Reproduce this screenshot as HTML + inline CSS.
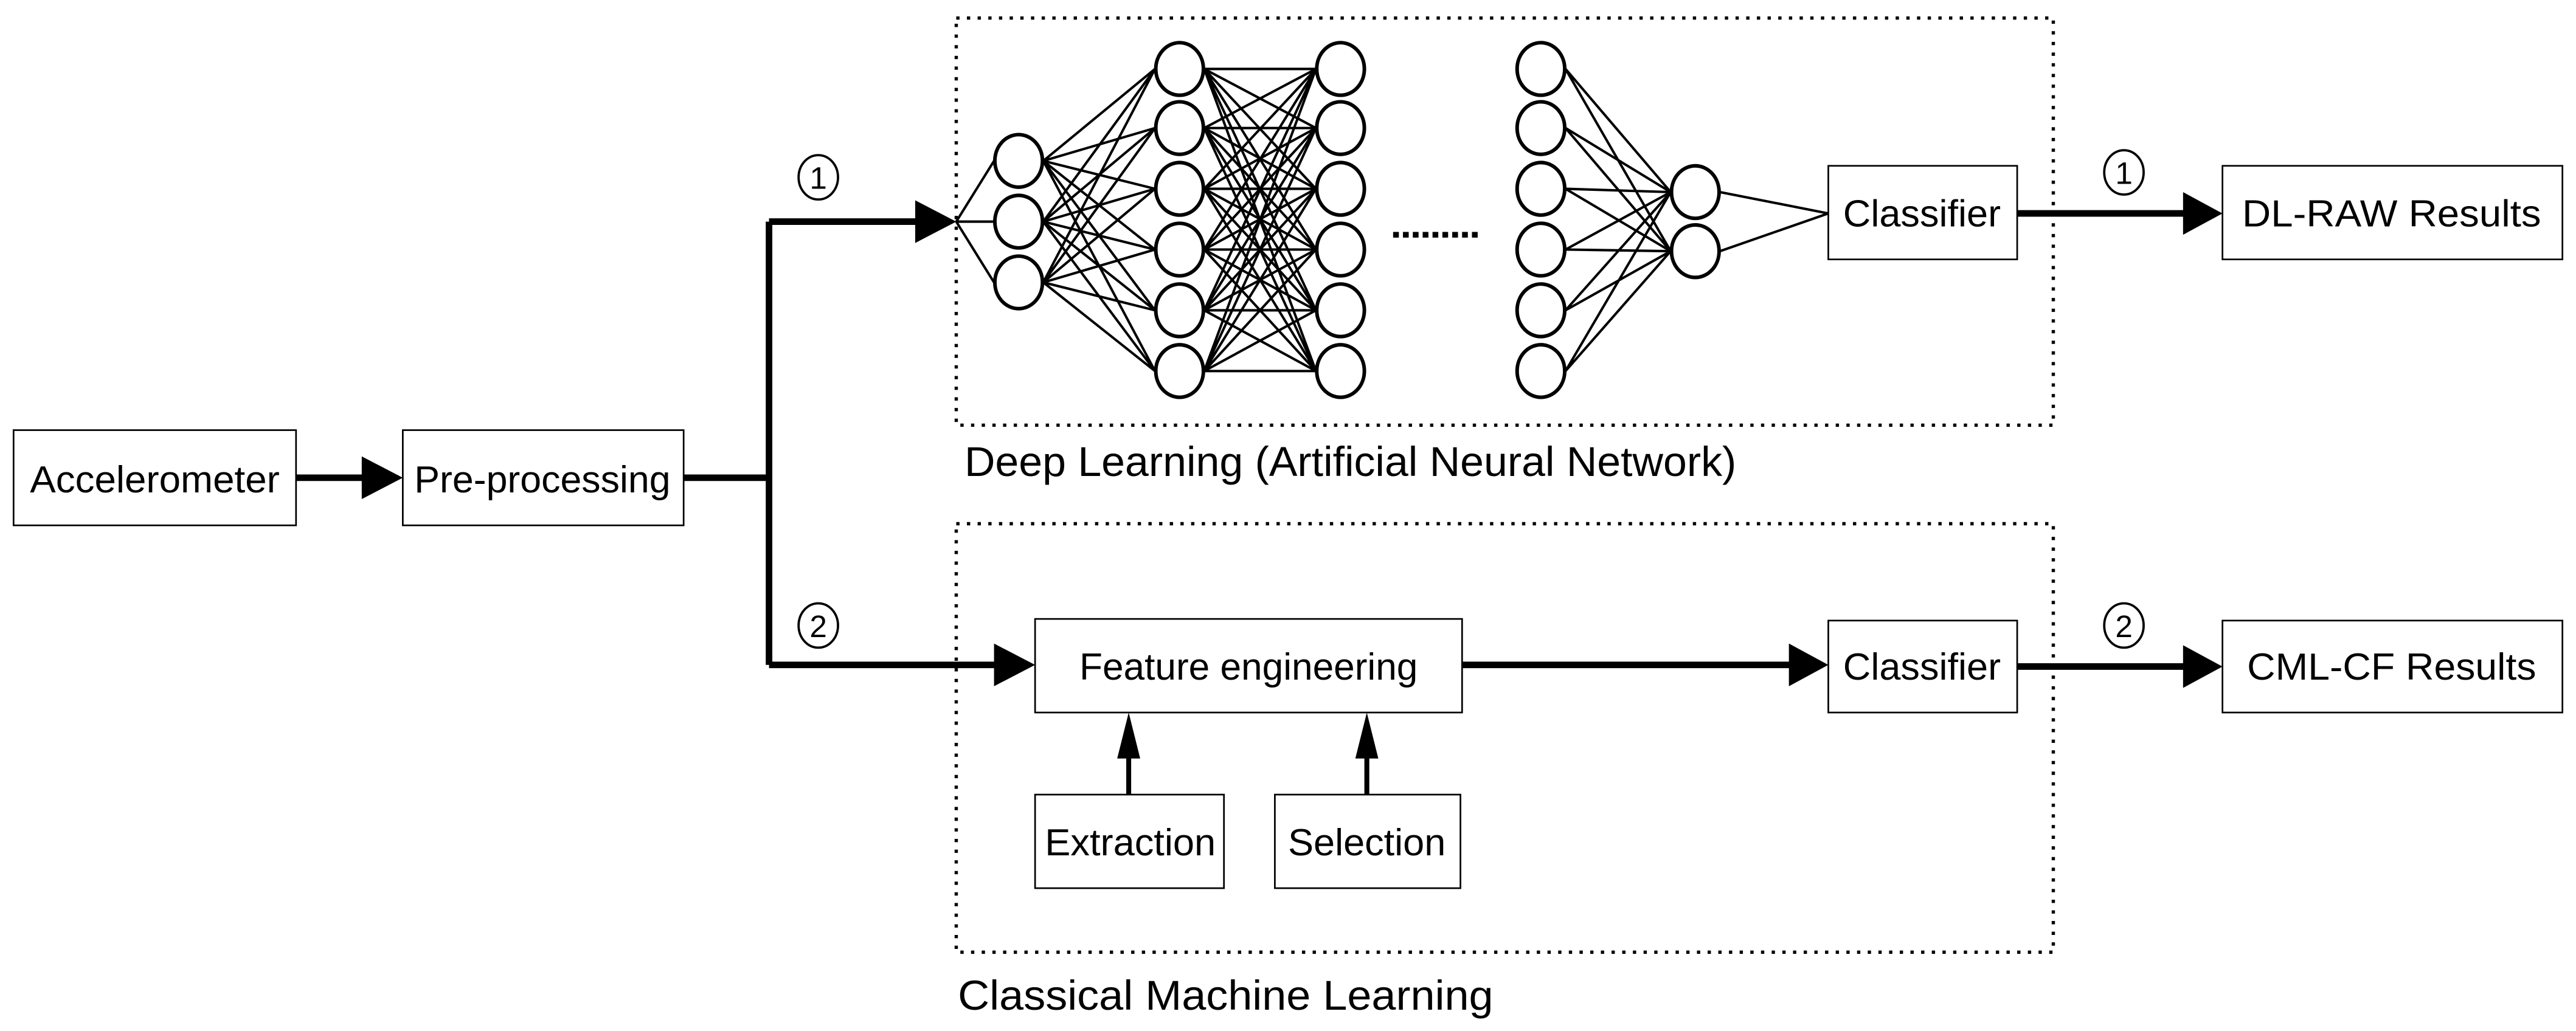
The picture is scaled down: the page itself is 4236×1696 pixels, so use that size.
<!DOCTYPE html>
<html><head><meta charset="utf-8"><style>
html,body{margin:0;padding:0;background:#fff;}
svg{display:block;}
text{font-family:"Liberation Sans",Arial,sans-serif;fill:#000;}
</style></head><body>
<svg width="4236" height="1696" viewBox="0 0 1568 628" xmlns="http://www.w3.org/2000/svg">
<rect width="1568" height="628" fill="#fff"/>
<rect x="582" y="11" width="668" height="248" fill="none" stroke="#000" stroke-width="2" stroke-dasharray="2 4.5"/>
<rect x="582" y="319" width="668" height="261" fill="none" stroke="#000" stroke-width="2" stroke-dasharray="2 4.5"/>
<text x="587" y="290" font-size="25.5" textLength="470" lengthAdjust="spacingAndGlyphs">Deep Learning (Artificial Neural Network)</text>
<text x="583" y="615" font-size="25.5" textLength="326" lengthAdjust="spacingAndGlyphs">Classical Machine Learning</text>

<g fill="#fff" stroke="#000" stroke-width="1">
<rect x="8" y="262" width="172" height="58"/>
<rect x="245" y="262" width="171" height="58"/>
<rect x="630" y="377" width="260" height="57"/>
<rect x="1113" y="378" width="115" height="56"/>
<rect x="1113" y="101" width="115" height="57"/>
<rect x="1353" y="378" width="207" height="56"/>
<rect x="1353" y="101" width="207" height="57"/>
<rect x="630" y="484" width="115" height="57"/>
<rect x="776" y="484" width="113" height="57"/>
</g>
<g font-size="23" text-anchor="middle">
<text x="94" y="300" textLength="152" lengthAdjust="spacingAndGlyphs">Accelerometer</text>
<text x="330" y="300" textLength="156" lengthAdjust="spacingAndGlyphs">Pre-processing</text>
<text x="760" y="414" textLength="206" lengthAdjust="spacingAndGlyphs">Feature engineering</text>
<text x="1170" y="414" textLength="96" lengthAdjust="spacingAndGlyphs">Classifier</text>
<text x="1170" y="138" textLength="96" lengthAdjust="spacingAndGlyphs">Classifier</text>
<text x="1456" y="414" textLength="176" lengthAdjust="spacingAndGlyphs">CML-CF Results</text>
<text x="1456" y="138" textLength="182" lengthAdjust="spacingAndGlyphs">DL-RAW Results</text>
<text x="688" y="521" textLength="104" lengthAdjust="spacingAndGlyphs">Extraction</text>
<text x="832" y="521" textLength="96" lengthAdjust="spacingAndGlyphs">Selection</text>
</g>

<g stroke="#000" stroke-width="4" fill="none">
<path d="M180 291H222"/>
<path d="M416 291H468"/>
<path d="M468 135V405"/>
<path d="M468 135H558"/>
<path d="M468 405H606"/>
<path d="M890 405H1090"/>
<path d="M1228 406H1330"/>
<path d="M1228 130H1330"/>
</g>
<g stroke="#000" stroke-width="3"><path d="M687 484V455"/><path d="M832 484V455"/></g>
<g fill="#000">
<polygon points="245,291 220,278 220,304"/>
<polygon points="582,135 557,122 557,148"/>
<polygon points="630,405 605,392 605,418"/>
<polygon points="1113,405 1089,392 1089,418"/>
<polygon points="1353,406 1329,393 1329,419"/>
<polygon points="1353,130 1329,117 1329,143"/>
<polygon points="687,434 680,462 694,462"/>
<polygon points="832,434 825,462 839,462"/>
</g>
<g fill="#fff" stroke="#000" stroke-width="1.4">
<ellipse cx="498" cy="108" rx="12" ry="13.5"/><ellipse cx="498" cy="381" rx="12" ry="13.5"/>
<ellipse cx="1293" cy="105" rx="12" ry="13.5"/><ellipse cx="1293" cy="381" rx="12" ry="13.5"/>
</g>
<g font-size="19" text-anchor="middle">
<text x="498" y="115">1</text><text x="498" y="388">2</text>
<text x="1293" y="112">1</text><text x="1293" y="388">2</text>
</g>

<g stroke="#000" stroke-width="1.5" fill="none">
<path d="M582 135L605 98M582 135L605 135M582 135L605 172"/>
<path d="
M635 98L703 42M635 98L703 78M635 98L703 115M635 98L703 152M635 98L703 189M635 98L703 226
M635 135L703 42M635 135L703 78M635 135L703 115M635 135L703 152M635 135L703 189M635 135L703 226
M635 172L703 42M635 172L703 78M635 172L703 115M635 172L703 152M635 172L703 189M635 172L703 226"/>
<path d="
M733 42L801 42M733 42L801 78M733 42L801 115M733 42L801 152M733 42L801 189M733 42L801 226
M733 78L801 42M733 78L801 78M733 78L801 115M733 78L801 152M733 78L801 189M733 78L801 226
M733 115L801 42M733 115L801 78M733 115L801 115M733 115L801 152M733 115L801 189M733 115L801 226
M733 152L801 42M733 152L801 78M733 152L801 115M733 152L801 152M733 152L801 189M733 152L801 226
M733 189L801 42M733 189L801 78M733 189L801 115M733 189L801 152M733 189L801 189M733 189L801 226
M733 226L801 42M733 226L801 78M733 226L801 115M733 226L801 152M733 226L801 189M733 226L801 226"/>
<path d="
M953 42L1017 117M953 78L1017 117M953 115L1017 117M953 152L1017 117M953 189L1017 117M953 226L1017 117
M953 42L1017 153M953 78L1017 153M953 115L1017 153M953 152L1017 153M953 189L1017 153M953 226L1017 153"/>
<path d="M1047 117L1113 130M1047 153L1113 130"/>
</g>
<g fill="#fff" stroke="#000" stroke-width="2.2">
<ellipse cx="620" cy="98" rx="14.5" ry="16"/><ellipse cx="620" cy="135" rx="14.5" ry="16"/><ellipse cx="620" cy="172" rx="14.5" ry="16"/>
<ellipse cx="718" cy="42" rx="14.5" ry="16"/><ellipse cx="718" cy="78" rx="14.5" ry="16"/><ellipse cx="718" cy="115" rx="14.5" ry="16"/><ellipse cx="718" cy="152" rx="14.5" ry="16"/><ellipse cx="718" cy="189" rx="14.5" ry="16"/><ellipse cx="718" cy="226" rx="14.5" ry="16"/>
<ellipse cx="816" cy="42" rx="14.5" ry="16"/><ellipse cx="816" cy="78" rx="14.5" ry="16"/><ellipse cx="816" cy="115" rx="14.5" ry="16"/><ellipse cx="816" cy="152" rx="14.5" ry="16"/><ellipse cx="816" cy="189" rx="14.5" ry="16"/><ellipse cx="816" cy="226" rx="14.5" ry="16"/>
<ellipse cx="938" cy="42" rx="14.5" ry="16"/><ellipse cx="938" cy="78" rx="14.5" ry="16"/><ellipse cx="938" cy="115" rx="14.5" ry="16"/><ellipse cx="938" cy="152" rx="14.5" ry="16"/><ellipse cx="938" cy="189" rx="14.5" ry="16"/><ellipse cx="938" cy="226" rx="14.5" ry="16"/>
<ellipse cx="1032" cy="117" rx="14.5" ry="16"/><ellipse cx="1032" cy="153" rx="14.5" ry="16"/>
</g>
<path d="M848 143H901" stroke="#000" stroke-width="3.5" stroke-dasharray="3.5 2.5"/>
</svg>
</body></html>
